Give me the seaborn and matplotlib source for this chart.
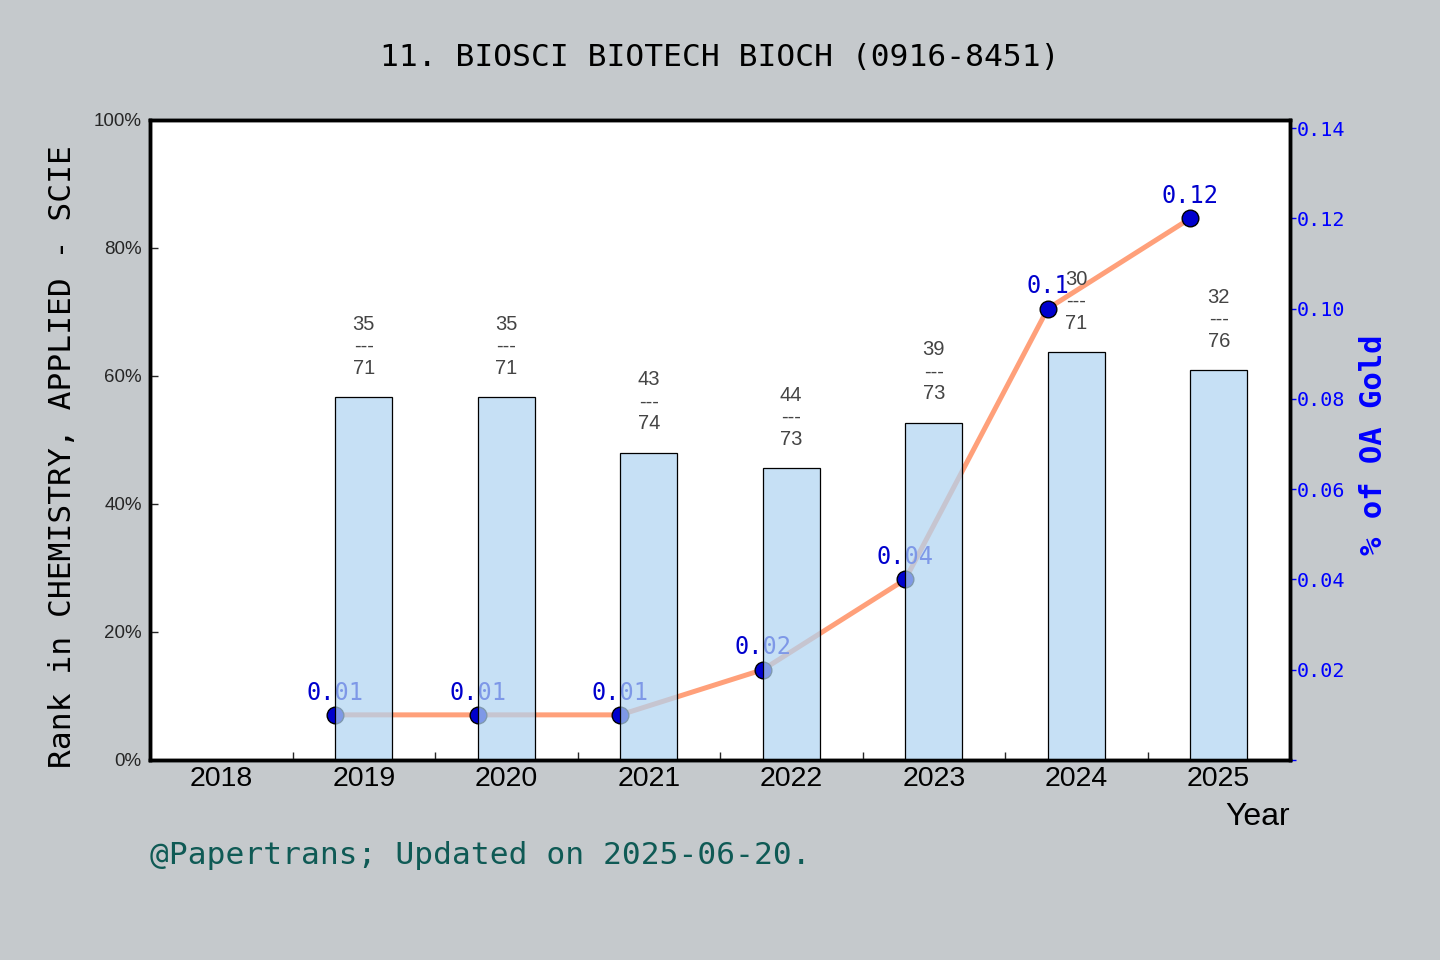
import matplotlib
matplotlib.use('Agg')
import matplotlib.pyplot as plt
import numpy as np
import seaborn as sns

# ---- data --------------------------------------------------------------------
years = [2018, 2019, 2020, 2021, 2022, 2023, 2024, 2025]
bar_years = [2019, 2020, 2021, 2022, 2023, 2024, 2025]
bar_pct = [0.567, 0.567, 0.480, 0.456, 0.527, 0.637, 0.609]
ranks = [35, 35, 43, 44, 39, 30, 32]
totals = [71, 71, 74, 73, 73, 71, 76]
oa_gold = [0.01, 0.01, 0.01, 0.02, 0.04, 0.10, 0.12]

title = '11. BIOSCI BIOTECH BIOCH (0916-8451)'
footer = '@Papertrans; Updated on 2025-06-20.'

BG = '#c5c9cc'
MONO = 'DejaVu Sans Mono'
SANS = 'Liberation Sans'

sns.set_theme(style='white')
plt.rcParams['font.family'] = [SANS, 'DejaVu Sans']

fig = plt.figure(figsize=(14.4, 9.6), dpi=100, facecolor=BG)
ax = fig.add_axes([150/1440, 1 - 760/960, 1140/1440, 640/960])
ax2 = ax.twinx()

# bars drawn on top of the line axis, semi-transparent
ax.set_zorder(ax2.get_zorder() + 1)
ax.patch.set_visible(False)
ax2.patch.set_visible(True)
ax2.patch.set_facecolor('white')

x_bar = np.array(bar_years) - years[0]
sns.barplot(x=x_bar, y=bar_pct, native_scale=True, width=0.4, ax=ax,
            color='#b0d4f2', saturation=1, edgecolor='black', linewidth=0.9)
for p in ax.patches:
    p.set_facecolor((176/255, 212/255, 242/255, 0.72))
    p.set_edgecolor('black')

for xb, h, r, n in zip(x_bar, bar_pct, ranks, totals):
    ax.annotate(f'{r}\n---\n{n}', (xb, h), xytext=(0, 14),
                textcoords='offset points', ha='center', va='bottom',
                fontsize=14.5, color='#444444', linespacing=1.2)

# OA gold line on the right axis, shifted to the bar's left edge
x_line = x_bar - 0.2
sns.lineplot(x=x_line, y=oa_gold, ax=ax2, color='#ffa07a', linewidth=3.6,
             marker='o', markersize=12, markerfacecolor='#0000cd',
             markeredgecolor='black', markeredgewidth=1, sort=False)
for xl, v in zip(x_line, oa_gold):
    ax2.annotate(f'{v:g}', (xl, v), xytext=(0, 11),
                 textcoords='offset points', ha='center', va='baseline',
                 fontsize=17, color='#0000cd', family=MONO)

# ---- axes formatting ---------------------------------------------------------
ax.set_xlim(-0.5, 7.5)
ax.set_ylim(0, 1)
ax.set_yticks(np.arange(0, 1.01, 0.2))
ax.set_yticklabels([f'{int(round(t*100))}%' for t in np.arange(0, 1.01, 0.2)],
                   fontsize=13.5)
ax.tick_params(axis='y', direction='in', length=6, width=1, left=True, pad=6)
ax.set_xticks(np.arange(0.5, 7, 1))
ax.set_xticklabels([])
ax.set_xticks(np.arange(len(years)), minor=True)
ax.set_xticklabels([str(y) for y in years], minor=True, fontsize=20.5)
ax.tick_params(axis='x', which='major', direction='in', length=6, width=1,
               bottom=True)
ax.tick_params(axis='x', which='minor', length=0, pad=4, colors='black')
ax.set_xlabel('')
ax.set_ylabel('')
ax.grid(False)
ax2.grid(False)

ax2.set_ylim(0, 0.1418)
rticks = np.arange(0, 0.141, 0.02)
ax2.set_yticks(rticks)
ax2.set_yticklabels(['' if t == 0 else f'{t:.2f}' for t in rticks],
                    fontsize=14.5, color='#0000ff', family=MONO)
ax2.tick_params(axis='y', direction='out', length=4, width=1,
                colors='#0000ff', right=True, pad=1)
ax2.set_ylabel('')

for a in (ax, ax2):
    for s in a.spines.values():
        s.set_linewidth(2.5)
        s.set_color('black')

# ---- texts ---------------------------------------------------------------------
fig.text(0.5, 1 - 57/960, title, ha='center', va='center',
         fontsize=22.5, family=MONO, color='black')
fig.text(63/1440, 1 - 457/960, 'Rank in CHEMISTRY, APPLIED - SCIE',
         rotation=90, ha='center', va='center', fontsize=22.5, family=MONO,
         color='black')
fig.text(1373/1440, 1 - 445/960, '% of OA Gold', rotation=90,
         ha='center', va='center', fontsize=22, family=MONO,
         fontweight='bold', color='#0000ff')
fig.text(1290/1440, 1 - 817/960, 'Year', ha='right', va='center',
         fontsize=23, family=SANS, color='black')
fig.text(150/1440, 1 - 855/960, footer, ha='left', va='center',
         fontsize=22.5, family=MONO, color='#0f5a55')

fig.savefig('out.png', dpi=100, facecolor=BG)
